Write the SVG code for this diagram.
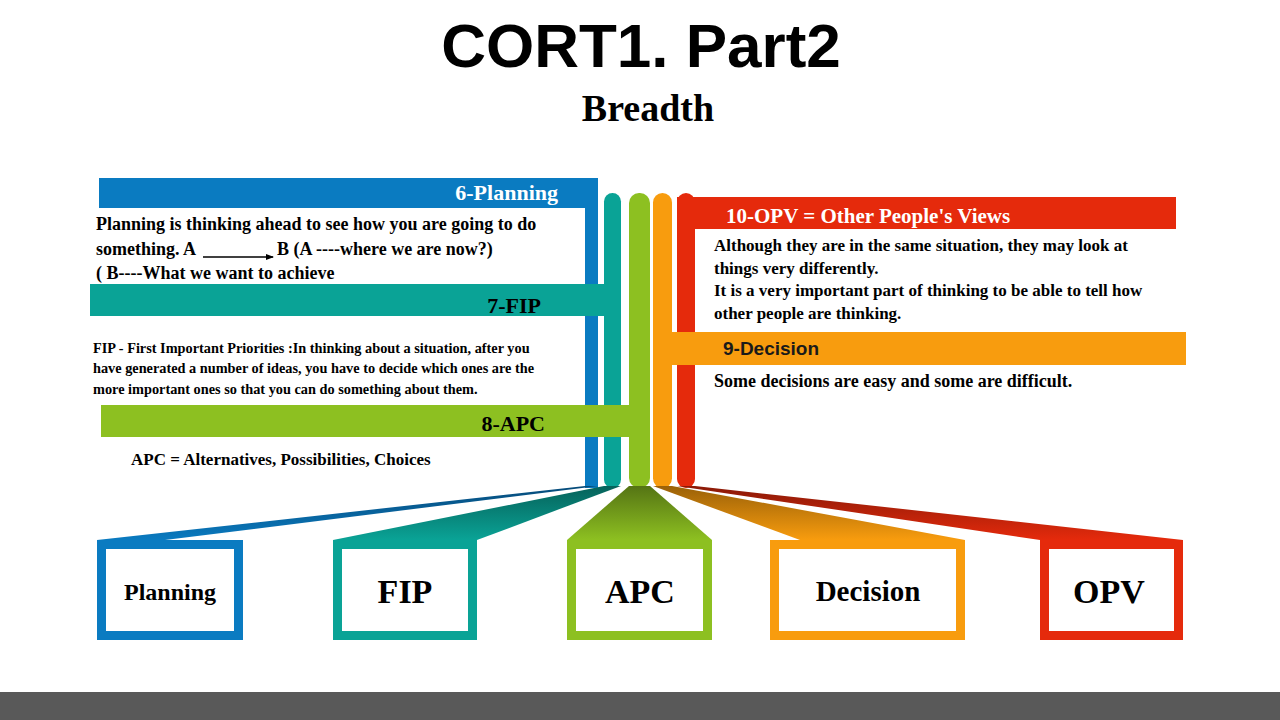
<svg xmlns="http://www.w3.org/2000/svg" width="1280" height="720" viewBox="0 0 1280 720">
<defs>
<style>
.s{font-family:"Liberation Serif",serif;font-weight:bold;fill:#000}
.w{fill:#fff}
.box{fill:#fff;stroke-width:9}
</style>
<linearGradient id="gb" x1="0" y1="1" x2="0" y2="0"><stop offset="0" stop-color="#0a7bc1"/><stop offset="1" stop-color="#064a78"/></linearGradient>
<linearGradient id="gt" x1="0" y1="1" x2="0" y2="0"><stop offset="0" stop-color="#0aa396"/><stop offset="1" stop-color="#06625a"/></linearGradient>
<linearGradient id="gg" x1="0" y1="1" x2="0" y2="0"><stop offset="0" stop-color="#8dc021"/><stop offset="1" stop-color="#557414"/></linearGradient>
<linearGradient id="go" x1="0" y1="1" x2="0" y2="0"><stop offset="0" stop-color="#f89c0e"/><stop offset="1" stop-color="#9a6108"/></linearGradient>
<linearGradient id="gr" x1="0" y1="1" x2="0" y2="0"><stop offset="0" stop-color="#e52a0c"/><stop offset="1" stop-color="#8a1a07"/></linearGradient>
<marker id="ar" markerWidth="8" markerHeight="8" refX="7" refY="4" orient="auto" markerUnits="userSpaceOnUse"><path d="M0,1 L8,4 L0,7 z" fill="#000"/></marker>
</defs>
<rect width="1280" height="720" fill="#fff"/>
<text x="641" y="67" text-anchor="middle" font-family="Liberation Sans,Arial,sans-serif" font-weight="bold" font-size="62">CORT1. Part2</text>
<text x="648" y="121" text-anchor="middle" class="s" font-size="38">Breadth</text>

<g id="connectors">
<rect x="585" y="178" width="13" height="310" fill="#0a7bc1"/>
<rect x="604" y="193" width="17" height="295" rx="8.5" fill="#0aa396"/>
<rect x="629" y="193" width="21" height="295" rx="10" fill="#8dc021"/>
<rect x="653" y="193" width="19" height="295" rx="9.5" fill="#f89c0e"/>
<rect x="677" y="193" width="18" height="295" rx="9" fill="#e52a0c"/>
<polygon points="585,486 598,486 165,540 97,540" fill="url(#gb)"/>
<polygon points="604,486 621,486 477,540 333,540" fill="url(#gt)"/>
<polygon points="629,486 650,486 712,540 567,540" fill="url(#gg)"/>
<polygon points="653,486 672,486 965,540 800,540" fill="url(#go)"/>
<polygon points="677,486 695,486 1183,540 1040,540" fill="url(#gr)"/>
</g>

<g id="planning">
<rect x="99" y="178" width="499" height="30" fill="#0a7bc1"/>
<text x="558" y="200" text-anchor="end" class="s w" font-size="22">6-Planning</text>
<text class="s" font-size="18"><tspan x="96" y="230">Planning is thinking ahead to see how you are going to do</tspan><tspan x="96" y="255">something. A</tspan><tspan x="277" y="255">B  (A ----where we are now?)</tspan><tspan x="96" y="279">( B----What we want to achieve</tspan></text>
<line x1="203" y1="257" x2="273" y2="257" stroke="#000" stroke-width="1.6" marker-end="url(#ar)"/>
</g>
<g id="fip">
<rect x="90" y="284" width="531" height="32" fill="#0aa396"/>
<text x="541" y="313" text-anchor="end" class="s" font-size="22">7-FIP</text>
<text class="s" font-size="14.3"><tspan x="93" y="353">FIP - First Important Priorities :In thinking about a situation, after you</tspan><tspan x="93" y="373">have generated a number of ideas, you have to decide which ones are the</tspan><tspan x="93" y="394">more important ones so that you can do something about them.</tspan></text>
</g>
<g id="apc">
<rect x="101" y="405" width="549" height="32" fill="#8dc021"/>
<text x="545" y="431" text-anchor="end" class="s" font-size="22">8-APC</text>
<text x="131" y="465" class="s" font-size="17">APC = Alternatives, Possibilities, Choices</text>
</g>
<g id="opv">
<rect x="677" y="197" width="499" height="32" fill="#e52a0c"/>
<text x="726" y="223" class="s w" font-size="21">10-OPV = Other People's Views</text>
<text class="s" font-size="17"><tspan x="714" y="251">Although they are in the same situation, they may look at</tspan><tspan x="714" y="274">things very differently.</tspan><tspan x="714" y="296">It is a very important part of thinking to be able to tell how</tspan><tspan x="714" y="319">other people are thinking.</tspan></text>
</g>
<g id="decision">
<rect x="653" y="332" width="533" height="33" fill="#f89c0e"/>
<text x="723" y="355" font-family="Liberation Sans,Arial,sans-serif" font-weight="bold" font-size="19" fill="#1a1a1a">9-Decision</text>
<text x="714" y="387" class="s" font-size="18">Some decisions are easy and some are difficult.</text>
</g>

<g id="box-planning"><rect x="101.5" y="544.5" width="137" height="91" class="box" stroke="#0a7bc1"/><text x="170" y="600" text-anchor="middle" class="s" font-size="24">Planning</text></g>
<g id="box-fip"><rect x="337.5" y="544.5" width="135" height="91" class="box" stroke="#0aa396"/><text x="405" y="603" text-anchor="middle" class="s" font-size="34">FIP</text></g>
<g id="box-apc"><rect x="571.5" y="544.5" width="136" height="91" class="box" stroke="#8dc021"/><text x="640" y="603" text-anchor="middle" class="s" font-size="34">APC</text></g>
<g id="box-decision"><rect x="774.5" y="544.5" width="186" height="91" class="box" stroke="#f89c0e"/><text x="868" y="601" text-anchor="middle" class="s" font-size="29">Decision</text></g>
<g id="box-opv"><rect x="1044.5" y="544.5" width="134" height="91" class="box" stroke="#e52a0c"/><text x="1109" y="603" text-anchor="middle" class="s" font-size="34">OPV</text></g>

<rect x="0" y="692" width="1280" height="28" fill="#595959"/>
</svg>
